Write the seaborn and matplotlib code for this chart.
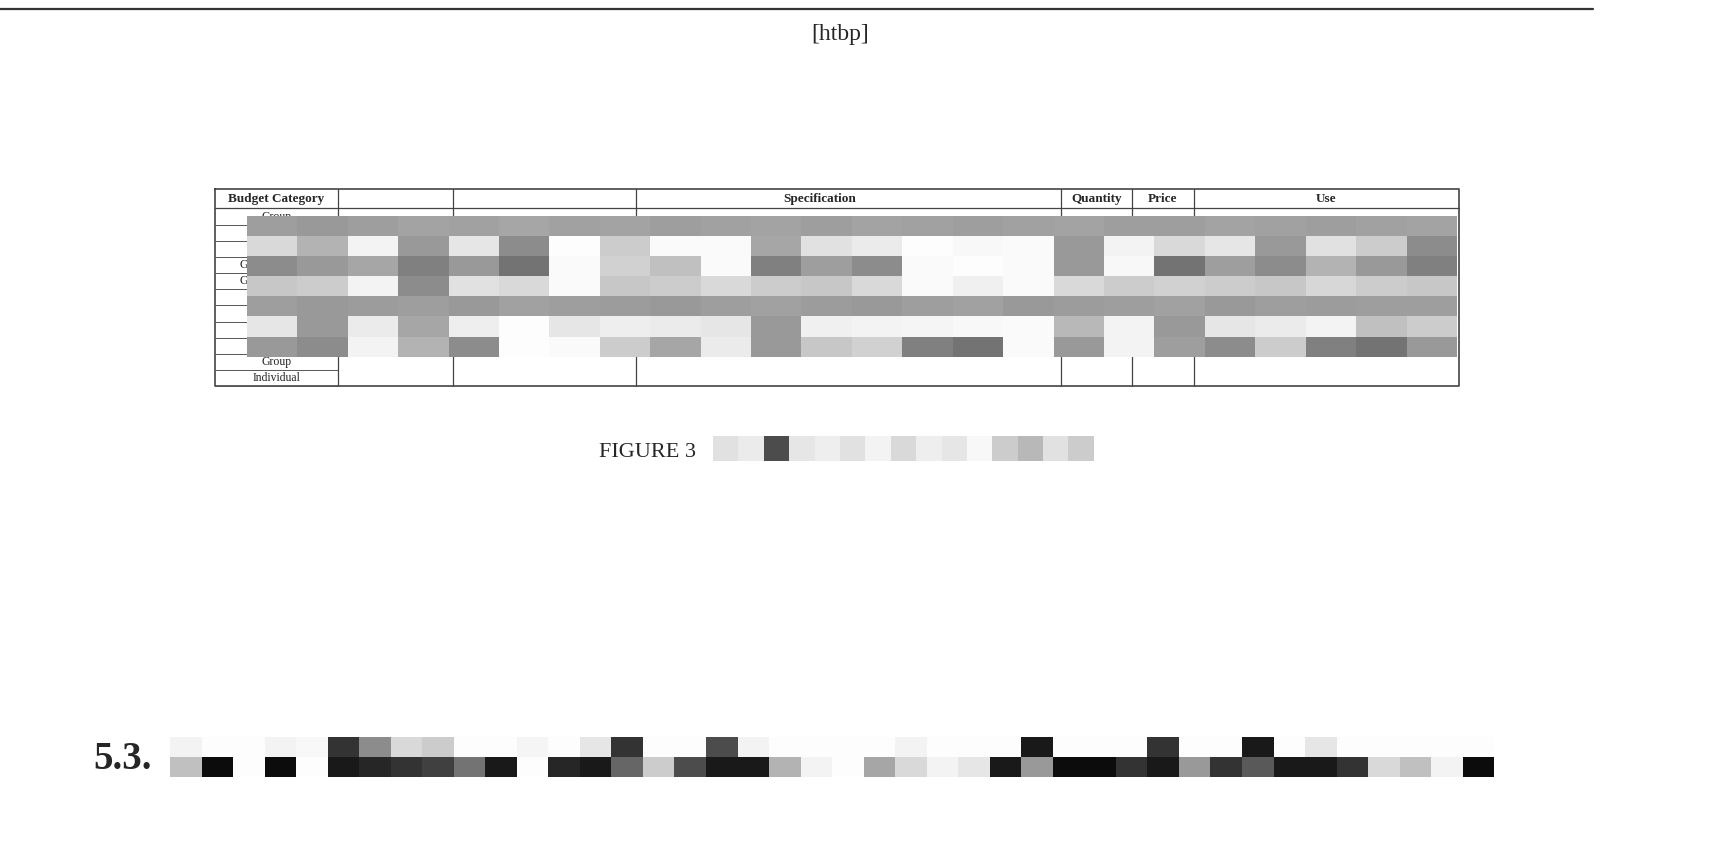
import numpy as np
import matplotlib.pyplot as plt
import seaborn as sns

sns.set_style('white')
plt.rcParams['font.family'] = ['Liberation Serif', 'DejaVu Serif']

# table text
headers = ['Budget Category', 'Specification', 'Quantity', 'Price', 'Use']
row_labels = ['Group', 'Group', 'Group', 'Group Funding', 'Group Funding', 'Group',
              'Individual', 'Individual', 'Individual', 'Group', 'Individual']
col_edges = [196, 308, 413, 580, 967, 1032, 1088, 1330]

# redaction mosaics (grey levels, 0 = black, 1 = white)
table_blur = np.array([
    [.62, .60, .62, .64, .63, .65, .63, .64, .62, .63, .64, .62, .64, .63, .62, .63, .64, .62, .62, .64, .63, .62, .63, .64],
    [.85, .70, .95, .60, .90, .55, .99, .80, .98, .98, .65, .88, .92, .99, .97, .98, .60, .95, .85, .90, .60, .88, .80, .55],
    [.55, .60, .65, .50, .60, .45, .98, .82, .75, .98, .50, .62, .55, .98, .99, .98, .60, .97, .45, .62, .55, .70, .60, .50],
    [.78, .80, .95, .55, .88, .85, .98, .78, .80, .85, .80, .78, .85, .98, .94, .98, .85, .80, .82, .80, .78, .84, .80, .78],
    [.62, .60, .61, .62, .60, .63, .62, .61, .60, .62, .63, .61, .60, .62, .63, .60, .61, .62, .63, .60, .62, .61, .62, .62],
    [.90, .60, .92, .65, .93, .99, .90, .93, .92, .90, .60, .94, .95, .96, .97, .98, .72, .95, .60, .90, .92, .95, .75, .80],
    [.60, .55, .95, .70, .55, .99, .98, .80, .65, .92, .60, .78, .82, .50, .45, .98, .60, .95, .62, .55, .80, .50, .45, .60],
])
caption_blur = np.array([[.88, .92, .30, .90, .93, .88, .95, .85, .93, .90, .97, .80, .72, .88, .80]])
heading_blur = np.array([
    [.95, .99, .99, .95, .97, .20, .55, .85, .80, .99, .99, .96, .99, .90, .20, .99, .99, .30, .95, .99, .99, .99, .99, .95, .99, .99, .99, .10, .99, .99, .99, .20, .99, .99, .10, .99, .90, .99, .99, .99, .99, .99],
    [.75, .05, .99, .05, .99, .10, .15, .20, .25, .45, .10, .99, .15, .10, .40, .80, .30, .10, .10, .70, .95, .99, .65, .85, .95, .90, .10, .60, .05, .05, .20, .10, .60, .20, .35, .10, .10, .20, .85, .75, .95, .05],
])

W, H = 1560.5, 771.0
fig = plt.figure(figsize=(17.12, 8.46), dpi=100)
ax = fig.add_axes([0, 0, 1, 1])
ax.set_xlim(0, W)
ax.set_ylim(H, 0)
ax.axis('off')

ax.plot([0, 1452], [8, 8], color='#333333', lw=1.6)
ax.text(766, 31, '[htbp]', ha='center', va='center', fontsize=17)

# table grid
top, head_bot, bot = 172, 190, 352
ax.plot([196, 1330, 1330, 196, 196], [top, top, bot, bot, top], color='#444444', lw=1.2)
for x in col_edges[1:-1]:
    ax.plot([x, x], [top, bot], color='#444444', lw=0.9)
ax.plot([196, 1330], [head_bot, head_bot], color='#444444', lw=0.9)
row_h = (bot - head_bot) / len(row_labels)
for i, lab in enumerate(row_labels):
    yc = head_bot + row_h * (i + 0.5)
    ax.plot([196, 308], [head_bot + row_h * (i + 1)] * 2, color='#555555', lw=0.7)
    ax.text(252, yc, lab, ha='center', va='center', fontsize=8.5)
head_x = [252, 747, 1000, 1060, 1209]
for x, h in zip(head_x, headers):
    ax.text(x, 181.5, h, ha='center', va='center', fontsize=9.5, fontweight='bold')


def mosaic(grid, x0, y0, x1, y1):
    fx, fw = x0 / W, (x1 - x0) / W
    fy, fh = 1 - y1 / H, (y1 - y0) / H
    a = fig.add_axes([fx, fy, fw, fh])
    sns.heatmap(grid, ax=a, cmap='gray', vmin=0, vmax=1, cbar=False,
                xticklabels=False, yticklabels=False)
    a.axis('off')


mosaic(table_blur, 225, 197, 1328, 325)
ax.text(590, 412, 'FIGURE 3', ha='center', va='center', fontsize=16)
mosaic(caption_blur, 650, 397, 997, 420)
ax.text(112, 692, '5.3.', ha='center', va='center', fontsize=28, fontweight='bold')
mosaic(heading_blur, 155, 672, 1362, 708)

fig.savefig('out.png', dpi=100)
